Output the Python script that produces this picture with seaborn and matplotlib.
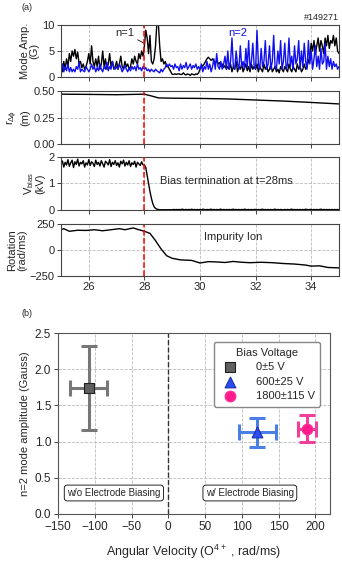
import numpy as np
import pandas as pd
import matplotlib
matplotlib.use("Agg")
import matplotlib.pyplot as plt
import seaborn as sns

# ---- panel (a) data ----
t_fast = np.round(np.arange(25.0, 35.0001, 0.05), 2)

n1_amp = [2.5, 1.0, 3.0, 1.5, 3.5, 2.0, 4.5, 3.0, 5.0, 4.0, 5.3, 3.5, 4.8, 2.5, 3.0, 1.8, 2.5, 1.5, 2.0, 3.0,
          4.5, 2.5, 6.0, 3.0, 2.0, 3.5, 2.0, 4.0, 1.5, 2.5, 5.0, 2.0, 3.5, 1.5, 2.5, 4.5, 2.0, 3.0, 1.5, 2.0,
          3.0, 1.5, 2.5, 4.0, 2.0, 1.5, 3.0, 2.0, 2.5, 1.5, 2.0, 3.5, 2.5, 4.0, 3.0, 2.5, 4.5, 3.5, 5.0, 4.0,
          6.0, 9.0, 7.5, 4.5, 8.0, 3.0, 2.5, 3.5, 6.0, 10.5, 10.5, 6.0, 3.0, 3.5, 2.5, 3.0, 2.0, 2.0, 1.5, 1.0,
          0.5, 0.5, 0.6, 0.5, 0.6, 0.6, 0.5, 0.5, 0.8, 0.5, 0.4, 0.6, 0.5, 0.3, 0.6, 0.5, 0.4, 0.6, 0.5, 0.8,
          1.5, 1.8, 2.2, 2.5, 3.0, 3.5, 3.8, 3.5, 3.2, 3.5, 3.0, 2.8, 3.0, 2.5, 2.8, 2.0, 2.5, 1.8, 2.2, 1.5,
          2.0, 1.5, 2.5, 1.0, 2.0, 1.5, 3.0, 1.0, 2.0, 1.5, 2.5, 1.0, 1.8, 2.5, 1.2, 2.0, 1.0, 2.5, 1.5, 2.0,
          1.5, 2.5, 1.0, 2.0, 1.5, 1.0, 2.5, 1.5, 2.0, 1.0, 1.5, 2.5, 1.0, 1.5, 2.0, 1.0, 1.5, 0.8, 2.0, 1.5,
          1.0, 2.0, 1.5, 1.0, 2.5, 1.5, 1.0, 2.0, 1.5, 1.0, 2.5, 1.5, 2.0, 1.0, 1.5, 2.5, 1.5, 2.0, 3.0, 4.0,
          6.5, 5.0, 7.0, 4.5, 6.0, 7.5, 5.0, 7.0, 6.0, 4.5, 7.5, 6.0, 8.0, 5.5, 7.0, 6.5, 8.0, 6.0, 7.5, 5.0, 4.5]

n2_amp = [1.5, 2.5, 1.0, 2.0, 1.2, 2.5, 1.0, 1.8, 1.0, 1.5, 1.0, 2.0, 1.5, 2.8, 1.0, 1.5, 1.2, 1.0, 2.0, 1.5,
          1.0, 1.5, 2.5, 1.5, 2.0, 1.0, 1.8, 1.2, 2.5, 1.5, 1.0, 2.0, 1.5, 2.8, 1.2, 2.0, 1.5, 3.0, 1.8, 1.5,
          2.0, 1.5, 2.5, 1.8, 1.0, 1.5, 2.2, 1.5, 1.0, 1.8, 1.2, 2.0, 1.5, 2.0, 1.2, 2.5, 1.5, 1.8, 1.2, 2.0,
          1.5, 1.8, 1.2, 1.5, 1.0, 1.5, 1.2, 1.0, 1.5, 1.2, 1.0, 0.8, 1.5, 1.0, 1.5, 1.8, 2.5, 2.0, 2.5, 2.0,
          2.2, 1.5, 2.5, 1.8, 2.0, 1.2, 2.5, 1.5, 2.2, 1.8, 2.8, 1.5, 2.0, 2.5, 1.5, 2.2, 1.8, 2.5, 1.5, 2.0,
          1.5, 2.5, 1.0, 2.0, 1.5, 3.0, 1.5, 2.5, 1.0, 2.0, 3.5, 1.5, 4.5, 2.0, 1.5, 3.0, 1.5, 2.5, 4.0, 1.5,
          5.0, 1.5, 3.0, 7.5, 2.0, 1.5, 5.0, 2.5, 1.5, 6.0, 2.0, 3.0, 1.5, 5.5, 2.0, 7.0, 1.5, 3.0, 6.5, 2.0,
          1.5, 9.0, 2.5, 1.5, 5.5, 2.0, 3.0, 7.0, 1.5, 2.5, 6.0, 1.5, 3.0, 8.0, 2.0, 1.5, 5.0, 2.5, 7.0, 1.5,
          3.0, 6.5, 1.5, 2.5, 7.5, 2.0, 4.0, 1.5, 6.0, 2.5, 3.5, 7.0, 1.5, 5.0, 2.0, 6.5, 3.0, 1.5, 7.0, 2.5,
          5.0, 1.5, 3.5, 6.0, 2.0, 4.0, 1.5, 5.5, 2.5, 3.0, 6.5, 1.5, 4.0, 2.0, 3.5, 1.5, 3.0, 2.0, 2.5, 1.5, 2.0]

t_r = [25.0, 26.0, 27.0, 28.0, 28.3, 28.5, 29.0, 30.0, 31.0, 32.0, 33.0, 34.0, 35.0]
r_dphi = [0.470, 0.468, 0.465, 0.470, 0.450, 0.435, 0.432, 0.430, 0.425, 0.415, 0.405, 0.392, 0.378]

v_bias = [1.75, 1.85, 1.62, 1.80, 1.70, 1.90, 1.65, 1.78, 1.88, 1.60, 1.82, 1.72, 1.92, 1.66, 1.80, 1.74, 1.86, 1.62, 1.78, 1.70,
          1.90, 1.68, 1.82, 1.76, 1.64, 1.88, 1.72, 1.80, 1.66, 1.86, 1.74, 1.62, 1.84, 1.78, 1.70, 1.90, 1.64, 1.80, 1.72, 1.86,
          1.68, 1.78, 1.62, 1.84, 1.74, 1.88, 1.66, 1.80, 1.70, 1.86, 1.64, 1.78, 1.72, 1.84, 1.62, 1.80, 1.74, 1.68, 1.82, 1.70,
          1.70, 1.60, 1.30, 1.00, 0.70, 0.45, 0.25, 0.12, 0.06, 0.03, 0.02, 0.01, 0.01, 0.01, 0.01, 0.01, 0.01, 0.01, 0.01, 0.01,
          0.01, 0.02, 0.01, 0.02, 0.01, 0.02, 0.01, 0.03, 0.02, 0.01, 0.02, 0.01, 0.02, 0.01, 0.03, 0.01, 0.02, 0.01, 0.02, 0.01,
          0.02, 0.01, 0.03, 0.02, 0.01, 0.02, 0.01, 0.02, 0.03, 0.01, 0.02, 0.01, 0.02, 0.01, 0.02, 0.03, 0.01, 0.02, 0.01, 0.02,
          0.01, 0.02, 0.01, 0.02, 0.03, 0.01, 0.02, 0.01, 0.02, 0.01, 0.02, 0.01, 0.03, 0.02, 0.01, 0.02, 0.01, 0.02, 0.01, 0.02,
          0.02, 0.01, 0.02, 0.01, 0.02, 0.03, 0.01, 0.02, 0.01, 0.02, 0.01, 0.02, 0.01, 0.02, 0.03, 0.01, 0.02, 0.01, 0.02, 0.01,
          0.01, 0.02, 0.01, 0.02, 0.01, 0.02, 0.03, 0.01, 0.02, 0.01, 0.02, 0.01, 0.02, 0.01, 0.02, 0.01, 0.03, 0.02, 0.01, 0.02,
          0.02, 0.01, 0.02, 0.01, 0.02, 0.01, 0.02, 0.03, 0.01, 0.02, 0.01, 0.02, 0.01, 0.02, 0.01, 0.02, 0.01, 0.02, 0.01, 0.02, 0.01]

t_rot = [25.0, 25.1, 25.3, 25.6, 25.9, 26.2, 26.5, 26.8, 27.1, 27.3, 27.6, 27.8, 28.0, 28.2, 28.4, 28.6, 28.8, 29.0,
         29.3, 29.7, 30.0, 30.3, 30.6, 30.9, 31.2, 31.5, 31.8, 32.2, 32.6, 33.0, 33.4, 33.8, 34.0, 34.3, 34.6, 35.0]
rotation = [195, 205, 180, 190, 188, 195, 185, 195, 205, 195, 212, 195, 180, 160, 90, 10, -55, -80,
            -95, -100, -125, -112, -115, -120, -110, -118, -122, -118, -122, -130, -135, -145, -155, -152, -168, -172]

# ---- panel (b) data ----
bias_labels = ["0\u00b15 V", "600\u00b125 V", "1800\u00b1115 V"]
ang_vel = [-108, 121, 189]
ang_vel_err = [25, 25, 12]
n2_mode = [1.74, 1.13, 1.18]
n2_mode_err = [0.58, 0.20, 0.19]
face_colors = ["#606060", "#2b4cf0", "#ff1a8c"]
edge_colors = ["#202020", "#1a2fb0", "#ff3399"]
err_colors = ["#777777", "#4a7fe5", "#f0409c"]
markers = ["s", "^", "o"]

sns.set_style("ticks")
plt.rcParams['font.family'] = ['Liberation Sans', 'DejaVu Sans']
plt.rcParams['mathtext.fontset'] = 'custom'
plt.rcParams['mathtext.rm'] = 'Liberation Sans'
plt.rcParams['mathtext.it'] = 'Liberation Sans'

fig = plt.figure(figsize=(3.42, 5.61), dpi=100)
W, H = 342, 561


def px_axes(x0, y0, x1, y1):
    return fig.add_axes([x0 / W, 1 - y1 / H, (x1 - x0) / W, (y1 - y0) / H])


ax1 = px_axes(61, 25, 339, 77)
ax2 = px_axes(61, 91, 339, 144)
ax3 = px_axes(61, 157, 339, 210)
ax4 = px_axes(61, 224, 339, 276)
axb = px_axes(58, 333, 330, 514)

fast = pd.DataFrame({"t": t_fast, "n1": n1_amp, "n2": n2_amp, "v": v_bias})
sns.lineplot(data=fast, x="t", y="n1", ax=ax1, color="black", lw=1.0)
sns.lineplot(data=fast, x="t", y="n2", ax=ax1, color="#1010ee", lw=1.0)
sns.lineplot(x=t_r, y=r_dphi, ax=ax2, color="black", lw=1.0)
sns.lineplot(data=fast, x="t", y="v", ax=ax3, color="black", lw=1.0)
sns.lineplot(x=t_rot, y=rotation, ax=ax4, color="black", lw=1.0)

fs = 8
panels = [(ax1, (0, 10), [0, 5, 10], "Mode Amp.\n(G)"),
          (ax2, (0, 0.5), [0, 0.25, 0.5], "$r_{\\Delta\\phi}$\n(m)"),
          (ax3, (0, 2), [0, 1, 2], "$V_{bias}$\n(kV)"),
          (ax4, (-250, 250), [-250, 0, 250], "Rotation\n(rad/ms)")]
for ax, ylim, yt, lab in panels:
    ax.set_xlim(25, 35)
    ax.set_ylim(*ylim)
    ax.set_yticks(yt)
    ax.set_xticks([26, 28, 30, 32, 34])
    ax.grid(True, ls="--", lw=0.6, color="#bbbbbb")
    ax.axvline(28, color="red", ls="--", lw=1.1)
    ax.set_ylabel(lab, fontsize=fs, linespacing=1.0, labelpad=2)
    ax.set_xlabel("")
    ax.tick_params(labelsize=fs, length=3, width=0.6, pad=1.5)
    for s in ax.spines.values():
        s.set_color("#444444")
        s.set_linewidth(0.8)
    if ax is not ax4:
        ax.tick_params(labelbottom=False)
ax2.set_yticklabels(["0.00", "0.25", "0.50"])

ax1.annotate("n=1", xy=(27.95, 6.6), xytext=(27.3, 8.5), fontsize=fs, ha="center", va="center",
             arrowprops=dict(arrowstyle="-", color="black", lw=0.6, shrinkA=5, shrinkB=0))
ax1.annotate("n=2", xy=(32.05, 6.6), xytext=(31.35, 8.5), fontsize=fs, ha="center", va="center",
             color="#1010ee", arrowprops=dict(arrowstyle="-", color="black", lw=0.6, shrinkA=5, shrinkB=0))
ax3.text(30.95, 1.1, "Bias termination at t=28ms", fontsize=fs, ha="center", va="center")
ax4.text(31.2, 125, "Impurity Ion", fontsize=fs, ha="center", va="center")

fig.text(22 / W, 1 - 8 / H, "(a)", fontsize=6.5, ha="left", va="center")
fig.text(339 / W, 1 - 17 / H, "#149271", fontsize=6.5, ha="right", va="center")
fig.text(22 / W, 1 - 313 / H, "(b)", fontsize=6.5, ha="left", va="center")

# ---- panel (b) ----
for i in range(3):
    axb.errorbar(ang_vel[i], n2_mode[i], xerr=ang_vel_err[i], yerr=n2_mode_err[i], fmt="none",
                 ecolor=err_colors[i], elinewidth=2.2, capsize=6, capthick=2.2, zorder=3)
    sns.scatterplot(x=[ang_vel[i]], y=[n2_mode[i]], ax=axb, marker=markers[i], s=60,
                    color=face_colors[i], edgecolor=edge_colors[i], linewidth=0.8,
                    label=bias_labels[i], zorder=4)

axb.axvline(0, color="#333333", ls="--", lw=1.0)
axb.set_xlim(-150, 220)
axb.set_ylim(0, 2.5)
axb.set_xticks([-150, -100, -50, 0, 50, 100, 150, 200])
axb.set_yticks([0, 0.5, 1.0, 1.5, 2.0, 2.5])
axb.grid(True, ls="--", lw=0.6, color="#bbbbbb")
axb.set_xlabel("Angular Velocity (O$^{4+}$ , rad/ms)", fontsize=9, labelpad=7)
axb.set_ylabel("n=2 mode amplitude (Gauss)", fontsize=8, labelpad=3)
axb.tick_params(labelsize=8.5, length=3, width=0.6, pad=2)
for s in axb.spines.values():
    s.set_color("#555555")
    s.set_linewidth(0.8)

box = dict(boxstyle="round,pad=0.3", fc="white", ec="black", lw=0.6)
axb.text(-74, 0.29, "w/o Electrode Biasing", fontsize=7, ha="center", va="center", bbox=box)
axb.text(111, 0.29, "w/ Electrode Biasing", fontsize=7, ha="center", va="center", bbox=box)

leg = axb.legend(title="Bias Voltage", loc="upper right", fontsize=8, title_fontsize=8,
                 frameon=True, fancybox=True, edgecolor="#888888", framealpha=1.0,
                 borderpad=0.5, labelspacing=0.4, handletextpad=1.3, bbox_to_anchor=(0.985, 0.98))

fig.savefig("out.png", dpi=100)
